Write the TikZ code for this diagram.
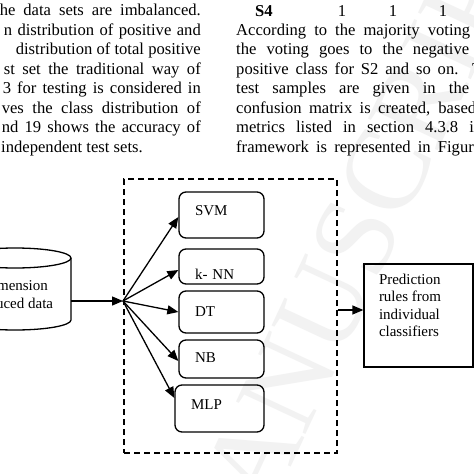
\documentclass[tikz,border=0pt]{standalone}
\usepackage{fontspec}
\setmainfont{Liberation Serif}
\usetikzlibrary{arrows.meta}

\tikzset{
  bodytext/.style={inner sep=0pt, font=\fontsize{16.6}{19.5}\selectfont},
  clfbox/.style={draw, line width=1.3pt, rounded corners=7pt, text width=53pt,
    inner xsep=16pt, inner ysep=0pt, align=left, font=\fontsize{15}{17}\selectfont},
  flow/.style={line width=1.3pt, -{Triangle[length=11pt,width=9pt]}},
}
\newcommand{\nudge}[2]{\raisebox{#1}[\height][\depth]{#2}}

\begin{document}
\begin{tikzpicture}[x=1pt,y=-1pt]
    \useasboundingbox (0,0) rectangle (474,474);
    \clip (0,0) rectangle (474,474);
    \fill[white] (0,0) rectangle (474,474);

    % Watermark
    \node[black!5, rotate=65, font=\fontsize{117}{117}\selectfont] (mark) at (350,250) {MANUSCRIPT};

    % Text above the figure, left column
    \node[bodytext, anchor=mid east] (l1) at (201,13.5) {\makebox[201pt][s]{he data sets are imbalanced.}};
    \node[bodytext, anchor=mid east] (l2) at (201,33) {\makebox[197pt][s]{n distribution of positive and}};
    \node[bodytext, anchor=mid east] (l3) at (201,52.5) {\makebox[185pt][s]{distribution of total positive}};
    \node[bodytext, anchor=mid east] (l4) at (201,72) {\makebox[197pt][s]{st set the traditional way of}};
    \node[bodytext, anchor=mid east] (l5) at (201,91.5) {\makebox[198pt][s]{3 for testing is considered in}};
    \node[bodytext, anchor=mid east] (l6) at (201,111) {\makebox[199pt][s]{ves the class distribution of}};
    \node[bodytext, anchor=mid east] (l7) at (201,130.5) {\makebox[199pt][s]{nd 19 shows the accuracy of}};
    \node[bodytext, anchor=mid west] (l8) at (1,150) {independent test sets.};

    % Text above the figure, right column
    \node[bodytext, anchor=west, font=\fontsize{16.6}{19.5}\selectfont\bfseries] (s4) at (255,11) {S4};
    \node[bodytext] (v1) at (342,11) {1};
    \node[bodytext] (v2) at (393,11) {1};
    \node[bodytext] (v3) at (443,11) {1};
    \node[bodytext, anchor=mid west] (r1) at (236,33) {\makebox[234pt][s]{According to the majority voting}};
    \node[bodytext, anchor=mid west] (r2) at (236,52.5) {\makebox[233pt][s]{the voting goes to the negative}};
    \node[bodytext, anchor=mid west] (r3) at (236,72) {\makebox[246pt][s]{positive class for S2 and so on. T}};
    \node[bodytext, anchor=mid west] (r4) at (236,91.5) {\makebox[233pt][s]{test samples are given in the}};
    \node[bodytext, anchor=mid west] (r5) at (236,111) {\makebox[240pt][s]{confusion matrix is created, based}};
    \node[bodytext, anchor=mid west] (r6) at (236,130.5) {\makebox[246pt][s]{metrics listed in section 4.3.8 in}};
    \node[bodytext, anchor=mid west] (r7) at (236,150) {\makebox[245pt][s]{framework is represented in Figure}};

    % Data store
    \draw[line width=1.3pt] (15,258) ellipse [x radius=56pt, y radius=10pt];
    \draw[line width=1.3pt] (-41,258) -- (-41,320) arc [start angle=180, end angle=360, x radius=56pt, y radius=10pt] -- (71,258);
    \node[font=\fontsize{15}{18}\selectfont, align=center] (data) at (15,295) {Dimension\\ reduced data};
    \coordinate (dataout) at (71,301);

    % Ensemble of classifiers
    \node[draw, dash pattern=on 6pt off 4pt, line width=1.4pt, minimum width=213pt, minimum height=274pt, inner sep=0pt] (ensemble) at (230.5,316) {};
    \coordinate (fan) at (123,301);
    \node[clfbox, minimum height=46pt] (svm) at (221.5,215) {\nudge{4pt}{SVM}};
    \node[clfbox, minimum height=35pt] (knn) at (221.5,266.5) {\nudge{-7.5pt}{k- NN}};
    \node[clfbox, minimum height=42pt] (dt) at (221.5,312) {DT};
    \node[clfbox, minimum height=38pt] (nb) at (221.5,359) {\nudge{1pt}{NB}};
    \node[clfbox, minimum height=47pt, text width=57pt] (mlp) at (219.5,408.5) {\nudge{3.5pt}{MLP}};

    % Output
    \node[draw, line width=1.3pt, inner xsep=15pt, inner ysep=10pt, font=\fontsize{15}{17.3}\selectfont] (rules) at (418.5,315.5)
        {\parbox[c][83pt][t]{79pt}{Prediction\\ rules from\\ individual\\ classifiers}};

    % Arrows
    \draw[flow] (dataout) -- (fan);
    \draw[flow] (fan) -- ([yshift=-2pt]svm.west);
    \draw[flow] (fan) -- ([yshift=-3.5pt]knn.west);
    \draw[flow] (fan) -- (dt.west);
    \draw[flow] (fan) -- ([yshift=-2pt]nb.west);
    \draw[flow] (fan) -- ([yshift=10.5pt]mlp.west);
    \draw[flow] ([yshift=6pt]ensemble.east) -- ([yshift=5.5pt]rules.west);
\end{tikzpicture}
\end{document}
